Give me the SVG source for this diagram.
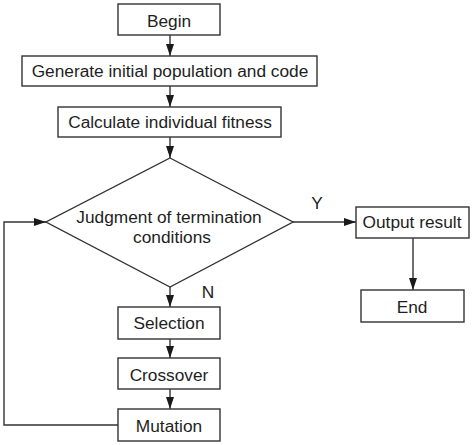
<svg xmlns="http://www.w3.org/2000/svg" width="474" height="445" viewBox="0 0 474 445">
<defs>
<marker id="ah" viewBox="0 0 12 8" refX="12" refY="4" markerWidth="12" markerHeight="8" markerUnits="userSpaceOnUse" orient="auto">
<path d="M0,0 L12,4 L0,8 Z" fill="#1a1a1a"/>
</marker>
<style>
.box{fill:#fff;stroke:#333;stroke-width:1.4}
.t{font-family:"Liberation Sans",Arial,sans-serif;font-size:17.3px;fill:#1e1e1e;text-anchor:middle}
.c{fill:none;stroke:#333;stroke-width:1.4}
</style>
</defs>
<rect width="474" height="445" fill="#fff"/>
<g id="connectors">
<line class="c" x1="170" y1="35" x2="170" y2="56" marker-end="url(#ah)"/>
<line class="c" x1="170" y1="86" x2="170" y2="107" marker-end="url(#ah)"/>
<line class="c" x1="170" y1="137" x2="170" y2="158" marker-end="url(#ah)"/>
<line class="c" x1="293" y1="222" x2="356" y2="222" marker-end="url(#ah)"/>
<line class="c" x1="413" y1="238" x2="413" y2="290" marker-end="url(#ah)"/>
<line class="c" x1="170" y1="287" x2="170" y2="307" marker-end="url(#ah)"/>
<line class="c" x1="170" y1="339" x2="170" y2="358" marker-end="url(#ah)"/>
<line class="c" x1="170" y1="389" x2="170" y2="409" marker-end="url(#ah)"/>
<polyline class="c" points="118,425 4,425 4,222 46,222" marker-end="url(#ah)"/>
<text class="t" x="317" y="209">Y</text>
<text class="t" x="208" y="298">N</text>
</g>
<g id="begin"><rect class="box" x="118" y="4" width="102" height="31"/><text class="t" x="169" y="27">Begin</text></g>
<g id="generate"><rect class="box" x="22" y="56" width="295" height="30"/><text class="t" x="170" y="77">Generate initial population and code</text></g>
<g id="calculate"><rect class="box" x="58" y="107" width="223" height="30"/><text class="t" x="170" y="128">Calculate individual fitness</text></g>
<g id="judgment"><polygon class="box" points="170,158 293,222 170,287 46,222"/><text class="t" x="169" y="223">Judgment of termination</text><text class="t" x="172" y="243">conditions</text></g>
<g id="output"><rect class="box" x="356" y="207" width="113" height="31"/><text class="t" x="412" y="228">Output result</text></g>
<g id="end"><rect class="box" x="361" y="290" width="103" height="32"/><text class="t" x="412" y="313">End</text></g>
<g id="selection"><rect class="box" x="118" y="307" width="102" height="32"/><text class="t" x="169" y="329">Selection</text></g>
<g id="crossover"><rect class="box" x="118" y="358" width="102" height="31"/><text class="t" x="169" y="381">Crossover</text></g>
<g id="mutation"><rect class="box" x="118" y="409" width="102" height="32"/><text class="t" x="169" y="432">Mutation</text></g>
</svg>
